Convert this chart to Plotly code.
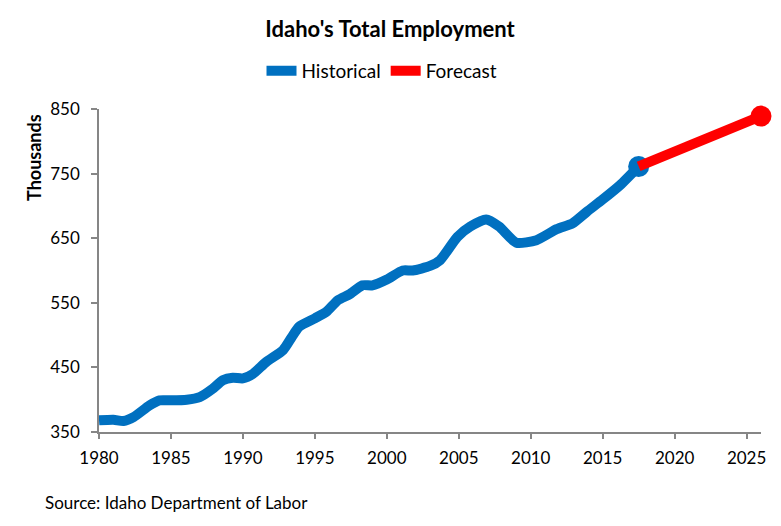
import plotly.graph_objects as go

hist_years = [1980.0, 1981.0, 1981.7, 1982.4, 1983.5, 1984.2, 1985.0, 1986.1, 1987.0, 1987.9,
              1988.6, 1989.3, 1990.0, 1990.7, 1991.6, 1992.8, 1993.4, 1993.9, 1995.0, 1995.8,
              1996.6, 1997.4, 1998.3, 1999.0, 2000.0, 2001.1, 2001.8, 2003.0, 2003.7, 2004.9,
              2005.8, 2006.9, 2007.8, 2009.0, 2010.4, 2011.8, 2012.9, 2013.9, 2015.0, 2016.2,
              2017.5]
hist_values = [368, 369, 367, 373, 391, 399, 399, 400, 404, 417,
               430, 434, 433, 440, 458, 477, 497, 513, 526, 536,
               554, 563, 577, 577, 586, 600, 600, 607, 616, 652,
               668, 679, 668, 643, 647, 664, 673, 691, 710, 732,
               761]
fc_years = [2017.5, 2026.0]
fc_values = [761, 839]

x_ticks = [1980, 1985, 1990, 1995, 2000, 2005, 2010, 2015, 2020, 2025]
y_ticks = [350, 450, 550, 650, 750, 850]

BLUE = "#0070C0"
RED = "#FF0000"
FONT = "Lato"

fig = go.Figure()
fig.add_trace(go.Scatter(x=hist_years, y=hist_values, mode="lines", name="Historical",
                         line=dict(color=BLUE, width=10, shape="spline", smoothing=0.6),
                         cliponaxis=False))
fig.add_trace(go.Scatter(x=[hist_years[-1]], y=[hist_values[-1]], mode="markers",
                         marker=dict(color=BLUE, size=21), showlegend=False, cliponaxis=False))
fig.add_trace(go.Scatter(x=fc_years, y=fc_values, mode="lines", name="Forecast",
                         line=dict(color=RED, width=10), cliponaxis=False))
fig.add_trace(go.Scatter(x=[fc_years[-1]], y=[fc_values[-1]], mode="markers",
                         marker=dict(color=RED, size=21), showlegend=False, cliponaxis=False))

fig.update_layout(
    width=781, height=526,
    margin=dict(l=99, r=20, t=109, b=94),
    paper_bgcolor="white", plot_bgcolor="white",
    font=dict(family=FONT, color="#000000", size=17),
    title=dict(text="<b>Idaho's Total Employment</b>", x=0.4994, xanchor="center",
               y=1 - 29 / 526, yanchor="middle", font=dict(size=22, family=FONT)),
    legend=dict(orientation="h", x=0.4275, xanchor="center", y=1.118, yanchor="middle",
                font=dict(size=19, family=FONT), itemwidth=30, tracegroupgap=0),
    showlegend=True,
    xaxis=dict(range=[1980, 2026], tickvals=x_ticks, showgrid=False, zeroline=False,
               showline=True, linecolor="#868686", linewidth=1.5,
               ticks="outside", ticklen=5, tickcolor="#868686", tickwidth=1.5,
               ticklabelstandoff=5,
               tickfont=dict(size=17, family=FONT)),
    yaxis=dict(range=[350, 850], tickvals=y_ticks, showgrid=False, zeroline=False,
               showline=True, linecolor="#868686", linewidth=1.5,
               ticks="outside", ticklen=6, tickcolor="#868686", tickwidth=1.5,
               ticklabelstandoff=8,
               tickfont=dict(size=17, family=FONT)),
    annotations=[
        dict(text="<b>Thousands</b>", xref="paper", yref="paper", x=(34 - 99) / 662,
             y=(432 - 158) / 323, textangle=-90, showarrow=False, xanchor="center",
             yanchor="middle", font=dict(size=18, family=FONT)),
        dict(text="Source: Idaho Department of Labor", xref="paper", yref="paper",
             x=(43 - 99) / 662, y=(432 - 502) / 323, showarrow=False, xanchor="left",
             yanchor="middle", font=dict(size=17, family=FONT)),
    ],
)

fig.write_html("out.html")
